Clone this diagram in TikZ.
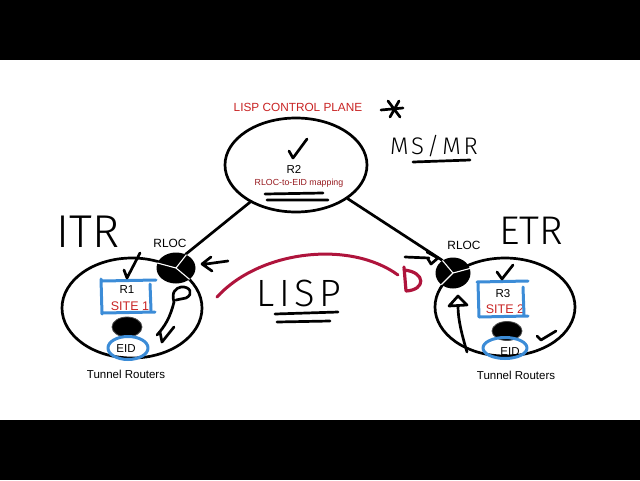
\documentclass[tikz,border=0pt]{standalone}
\usepackage{fontspec}
\setmainfont{Liberation Sans}
\newfontfamily\hand{Fira Sans Light}
\newfontfamily\handwide[LetterSpace=12]{Fira Sans Light}
\usetikzlibrary{shapes.geometric}
\definecolor{lispred}{RGB}{200,35,35}
\definecolor{mapred}{RGB}{150,25,30}
\definecolor{arcred}{RGB}{175,20,60}
\definecolor{skyblue}{RGB}{60,140,215}
\begin{document}
\begin{tikzpicture}[x=1pt,y=-1pt,
  sk/.style={line width=2.7pt, line cap=round, line join=round},
  pen/.style={line width=2.7pt, line cap=round, line join=round},
  blu/.style={line width=3pt, draw=skyblue, line cap=round, line join=round},
  oval/.style={ellipse, draw, sk, inner sep=0pt},
  router/.style={ellipse, fill=black, inner sep=0pt},
  device/.style={ellipse, fill=black, draw=black!70, line width=0.8pt, inner sep=0pt},
  ring/.style={ellipse, blu, inner sep=0pt},
  lbl/.style={font=\fontsize{11.5}{13}\selectfont, inner sep=0pt},
  handtxt/.style={inner sep=0pt}
]
\useasboundingbox (0,0) rectangle (640,480);
\fill[black] (0,0) rectangle (640,60);
\fill[black] (0,420) rectangle (640,480);

% main ellipses
\node[oval, minimum width=142pt, minimum height=94pt] (cp) at (296,165) {};
\node[oval, minimum width=140pt, minimum height=100pt] (itr) at (132,308) {};
\node[oval, minimum width=140pt, minimum height=98pt] (etr) at (505,307) {};

% routers (RLOC)
\node[router, minimum width=39pt, minimum height=31pt] (rloc1) at (176,268) {};
\node[router, minimum width=35pt, minimum height=31pt] (rloc2) at (453,273) {};
\draw[sk] (cp) -- (rloc1.55);
\draw[sk] (cp) -- (rloc2.130);
\draw[white, line width=1.1pt] (rloc1.center) -- (rloc1.52)
  (rloc1.center) -- (rloc1.-40) (rloc1.center) -- (rloc1.165);
\draw[white, line width=1.1pt] (rloc2.center) -- (rloc2.130)
  (rloc2.center) -- (rloc2.15) (rloc2.center) -- (rloc2.225);

% texts
\node[lbl, text=lispred, font=\fontsize{11.8}{13}\selectfont] (title) at (298,107) {LISP CONTROL PLANE};
\node[lbl] (r2) at (294,169) {R2};
\node[lbl, text=mapred, font=\fontsize{8.8}{10}\selectfont] (map) at (299,183) {RLOC-to-EID mapping};
\node[lbl, font=\fontsize{11.9}{13}\selectfont] (rl1) at (170,243) {RLOC};
\node[lbl, font=\fontsize{11.9}{13}\selectfont] (rl2) at (464,245) {RLOC};
\node[lbl] (r1) at (127,290) {R1};
\node[lbl, text=lispred, font=\fontsize{12.5}{14}\selectfont] (s1) at (130,306) {SITE 1};
\node[lbl] (r3) at (503,294) {R3};
\node[lbl, text=lispred, font=\fontsize{12.5}{14}\selectfont] (s2) at (505,309) {SITE 2};
\node[lbl] (tr1) at (126,374) {Tunnel Routers};
\node[lbl] (tr2) at (516,375) {Tunnel Routers};

% devices and EID rings
\node[device, minimum width=30pt, minimum height=20pt] (dev1) at (127,327) {};
\node[device, minimum width=30pt, minimum height=19pt] (dev2) at (507,331) {};
\node[ring, minimum width=40pt, minimum height=23pt] (ring1) at (128,348) {};
\node[ring, minimum width=44pt, minimum height=21pt] (ring2) at (505,348) {};
\node[lbl] (eid1) at (126,349) {EID};
\node[lbl] (eid2) at (510,352) {EID};

% blue site boxes
\draw[blu] (102,281) -- (156,280) (101,279) -- (102,314) (103,313) -- (155,312) (150,284) -- (151,310);
\draw[blu] (477,282) -- (528,281) (478,283) -- (479,317) (479,317) -- (528,316) (523,287) -- (524,315);

% handwritten labels
\node[handtxt, font=\hand\fontsize{46}{50}\selectfont] (itrlbl) at (88,232) {ITR};
\node[handtxt, font=\hand\fontsize{40}{44}\selectfont] (etrlbl) at (531,231) {ETR};
\node[handtxt, font=\handwide\fontsize{38}{42}\selectfont] (lisplbl) at (299,293) {LISP};
\node[handtxt, font=\handwide\fontsize{24}{28}\selectfont] (msmr) at (434,146) {MS/MR};

% hand marks
\draw[pen] (381,110) -- (403,108) (388,101) -- (400,117) (399,101) -- (390,117);
\draw[pen] (289,151) -- (293,158) -- (307,139);
\draw[pen] (265,194) -- (323,193) (267,200) -- (328,200);
\draw[pen] (413,162) -- (470,160);
\draw[pen] (124,270) -- (127,278) -- (140,253);
\draw[pen] (497,272) -- (502,279) -- (513,265);
\draw[pen] (537,336) -- (541,340) -- (556,331);
\draw[pen] (160,332) -- (162,342) -- (174,327);
\draw[pen] (174,302) .. controls (171,292) and (176,288) .. (181,287) .. controls (190,286) and (194,294) .. (186,298) -- (176,300);
\draw[pen] (174,302) .. controls (170,318) and (165,326) .. (157,335);
\draw[pen] (228,261) -- (206,264) (211,257) -- (202,264) -- (212,271);
\draw[pen] (405,257) -- (429,258) (427,252) -- (438,258) -- (431,264) -- (428,259);
\draw[pen] (467,352) .. controls (462,335) and (458,320) .. (458,306);
\draw[pen] (449,306) -- (458,296) -- (467,305) -- cycle;
\draw[pen] (275,314) -- (338,312) (277,322) -- (330,321);

% red LISP arc
\draw[line width=3pt, arcred, line cap=round, line join=round] (217,297) .. controls (260,250) and (350,240) .. (398,275);
\draw[line width=3.2pt, arcred, line cap=round, line join=round] (404,267) -- (406,291) (404,270) .. controls (426,272) and (426,290) .. (406,291);
\end{tikzpicture}
\end{document}
